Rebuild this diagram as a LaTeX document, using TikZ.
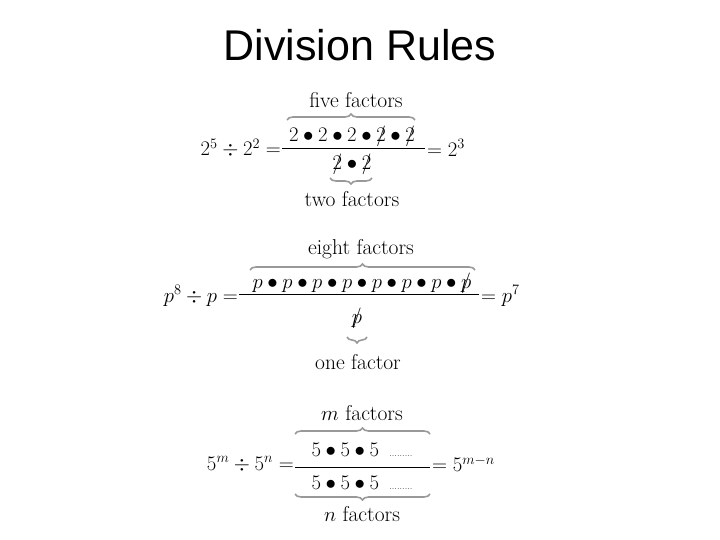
\documentclass[tikz,border=0pt]{standalone}
\usepackage{fontspec}
\newfontfamily\titlefont{Liberation Sans}
\usetikzlibrary{decorations.pathreplacing}
\newcommand{\strk}[1]{\ooalign{$#1$\cr\hidewidth$/$\hidewidth}}
\begin{document}
\begin{tikzpicture}[x=1pt,y=-1pt,
  t/.style={inner sep=0pt,font=\fontsize{21.5}{24}\selectfont},
  br/.style={draw=gray!80,line width=1.6pt,decorate,decoration={brace,amplitude=6pt}}]
\useasboundingbox (0,0) rectangle (720,540);
\node[inner sep=0pt,font=\titlefont\fontsize{43}{48}\selectfont] (title) at (360,45) {Division Rules};
% eq 1
\node[t] (f1) at (356,100) {five factors};
\draw[br] (287,120) -- (415,120);
\node[t,anchor=east] (l1) at (281,148) {$2^5\div 2^2 =$};
\draw (282,148) -- (425,148);
\node[t] (n1) at (352,137) {$2\bullet 2\bullet 2\bullet \strk{2}\bullet\strk{2}$};
\node[t] (d1) at (352,165) {$\strk{2}\bullet\strk{2}$};
\draw[br] (372,178) -- (330,178);
\node[t] (u1) at (352,199) {two factors};
\node[t,anchor=west] (r1) at (427,148) {$=2^3$};
% eq 2
\node[t] (f2) at (361,249) {eight factors};
\draw[br] (250,270) -- (475,270);
\node[t,anchor=east] (l2) at (238,296) {$p^8\div p =$};
\draw (239,294) -- (479,294);
\node[t] (n2) at (362,286) {$p\bullet p\bullet p\bullet p\bullet p\bullet p\bullet p\bullet \strk{p}$};
\node[t] (d2) at (357,322) {$\strk{p}$};
\draw[br] (367,337) -- (347,337);
\node[t] (u2) at (358,362) {one factor};
\node[t,anchor=west] (r2) at (481,296) {$=p^7$};
% eq 3
\node[t] (f3) at (362,413) {$m$ factors};
\draw[br] (295,434) -- (430,434);
\node[t,anchor=east] (l3) at (294,464) {$5^m\div 5^n =$};
\draw (295,467) -- (430,467);
\node[t] (n3) at (362,450) {$5\bullet 5\bullet 5$ \,\small.........};
\node[t] (d3) at (362,483) {$5\bullet 5\bullet 5$ \,\small.........};
\draw[br] (430,494) -- (295,494);
\node[t] (u3) at (362,514) {$n$ factors};
\node[t,anchor=west] (r3) at (432,464) {$=5^{m-n}$};
\end{tikzpicture}
\end{document}
